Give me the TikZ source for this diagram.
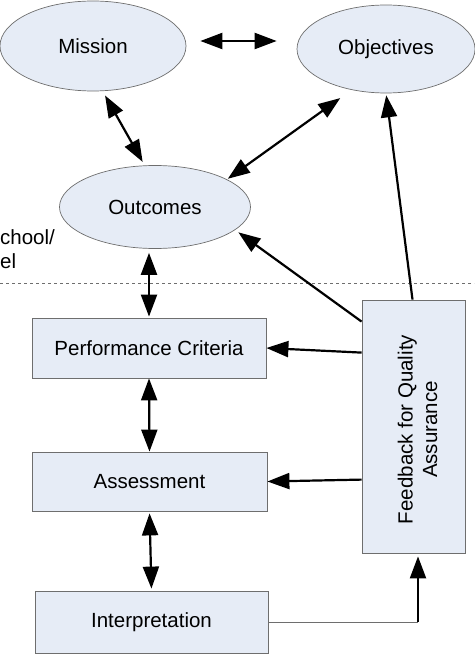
\documentclass[tikz,border=0pt]{standalone}
\usepackage{fontspec}
\setmainfont{Liberation Sans}
\usetikzlibrary{shapes.geometric,arrows.meta}
\definecolor{boxfill}{RGB}{230,236,246}
\definecolor{boxline}{RGB}{110,110,110}
\tikzset{
    goal/.style={ellipse, draw=boxline, fill=boxfill, line width=0.7pt, inner sep=0pt},
    stage/.style={rectangle, draw=boxline, fill=boxfill, line width=0.8pt, inner sep=0pt},
    dbl/.style={arrows={Triangle[length=22pt,width=16pt]-Triangle[length=22pt,width=16pt]}, line width=2.2pt},
    arr/.style={arrows={-Triangle[length=22pt,width=16pt]}, line width=2.2pt}
}
\begin{document}
\begin{tikzpicture}[x=1pt, y=-1pt, font=\fontsize{20.5}{24.6}\selectfont]
    \useasboundingbox (0,0) rectangle (474,655);

    \node[goal, minimum width=186pt, minimum height=90pt] (mission) at (93,46) {Mission};
    \node[goal, minimum width=178pt, minimum height=88pt] (objectives) at (386,49) {Objectives};
    \node[goal, minimum width=191pt, minimum height=83pt] (outcomes) at (155,207) {Outcomes};

    \node[align=left, anchor=north west, inner sep=0pt] (level) at (0,229) {chool/\\el};
    \draw[boxline, dashed, line width=0.6pt] (0,283) -- (474,283);

    \node[stage, minimum width=234pt, minimum height=60pt] (perf) at (149,348) {Performance Criteria};
    \node[stage, minimum width=235pt, minimum height=59pt] (assess) at (149.5,481.5) {Assessment};
    \node[stage, minimum width=233pt, minimum height=62pt] (interp) at (151.5,622) {Interpretation};
    \node[stage, minimum width=103pt, minimum height=253pt,
        label={[rotate=90, align=center, xshift=-3pt, yshift=-4pt]center:Feedback for Quality\\Assurance}] (fb) at (413.5,426.5) {};

    \draw[dbl] ([xshift=14pt,yshift=5pt]mission.east) -- ([xshift=-20pt,yshift=8pt]objectives.west);
    \draw[dbl, shorten <=5pt, shorten >=4pt] (mission.-78) -- (outcomes.104);
    \draw[dbl, shorten <=1pt, shorten >=14pt] (outcomes.21) -- (objectives.-130);
    \draw[dbl, shorten <=1pt, shorten >=4pt] (perf.north) -- (perf.north |- outcomes.south);
    \draw[dbl] (perf.south) -- (assess.north);
    \draw[dbl, shorten <=2pt, shorten >=2pt] (assess.south) -- (interp.north);

    \draw[arr, shorten >=2pt] ([xshift=-1pt]fb.north) -- (objectives.south);
    \draw[arr, shorten >=4pt] ([yshift=-22pt]fb.north west) -- (outcomes.-16);
    \draw[arr] ([yshift=-53pt]fb.north west) -- (perf.east);
    \draw[arr] ([yshift=-180pt]fb.north west) -- (assess.east);

    \coordinate (turn) at ([xshift=4.5pt]fb.south |- interp.east);
    \draw[line width=1pt, boxline] (interp.east) -- (turn);
    \draw[arr, shorten >=3pt] (turn) -- ([xshift=4.5pt]fb.south);

\end{tikzpicture}
\end{document}
